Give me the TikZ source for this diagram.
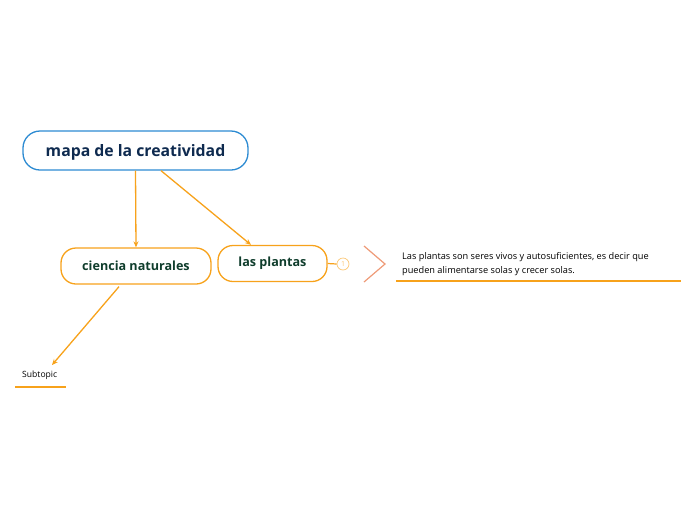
\documentclass[tikz,border=0pt]{standalone}
\usepackage{fontspec}
\setmainfont{Open Sans}
\usetikzlibrary{calc,positioning,arrows.meta}

\definecolor{mmorange}{HTML}{F7A21B}
\definecolor{mmblue}{HTML}{2D8BD2}
\definecolor{mmnavy}{HTML}{0E2A4F}
\definecolor{mmgreen}{HTML}{0F3D2C}
\definecolor{mmsalmon}{HTML}{EE9A77}
\definecolor{mmlight}{HTML}{FBC774}

\tikzset{
  rootbox/.style={draw=mmblue, line width=1.3pt, rounded corners=17pt,
    minimum width=225pt, minimum height=39pt, font=\bfseries\fontsize{15.8}{18}\selectfont,
    text=mmnavy},
  topicbox/.style={draw=mmorange, line width=1.3pt, rounded corners=15pt,
    minimum height=36pt, font=\bfseries\fontsize{12.6}{14}\selectfont, text=mmgreen},
  link/.style={draw=mmorange, line width=1.3pt, -{Stealth[length=6pt,width=5pt]}}
}

\begin{document}
\begin{tikzpicture}[x=1pt,y=-1pt]

% Page frame
\useasboundingbox (0,0) rectangle (696,520);

% Main topic
\node[rootbox, text depth=1pt] (root) at (135.5,150.5) {mapa de la creatividad};

% Subtopics
\node[topicbox, minimum width=150pt] (ciencia) at (136,266) {ciencia naturales};
\node[topicbox, minimum width=109pt] (plantas) at (272.5,263.5) {las plantas};

% Connectors from the main topic
\draw[link] (root.south) -- (ciencia.north);
\draw[link] ($(root.south)+(25.5,0)$) -- ($(plantas.north)+(-21.5,0)$);

% Note marker
\node[circle, draw=mmlight, line width=0.7pt, minimum size=12pt, inner sep=0pt,
  text=mmlight, font=\fontsize{7}{8}\selectfont] (mark) at (343,264) {1};
\draw[mmorange, line width=1.2pt] (plantas.east) -- (mark.west);

% Chevron
\coordinate (chA) at (364,246);
\coordinate (chB) at (385,264);
\coordinate (chC) at (364,282);
\draw[mmsalmon, line width=1.2pt] (chA) -- (chB) -- (chC);

% Note text
\node[anchor=north west, align=left, inner sep=0pt,
  font=\fontsize{9.2}{14}\selectfont] (note) at (402,252.5)
  {Las plantas son seres vivos y autosuficientes, es decir que\\
   pueden alimentarse solas y crecer solas.};
\coordinate (noteL) at (396,281);
\coordinate (noteR) at (681,281);
\draw[mmorange, line width=2pt] (noteL) -- (noteR);

% Floating subtopic
\node[anchor=west, inner sep=0pt, font=\fontsize{8.6}{10}\selectfont] (sub) at (22,375.5) {Subtopic};
\coordinate (subL) at (15,387);
\coordinate (subR) at (66,387);
\draw[mmorange, line width=2pt] (subL) -- (subR);
\coordinate (subTip) at (52,365);
\draw[link] ($(ciencia.south)+(-17,2)$) -- (subTip);

\end{tikzpicture}
\end{document}
